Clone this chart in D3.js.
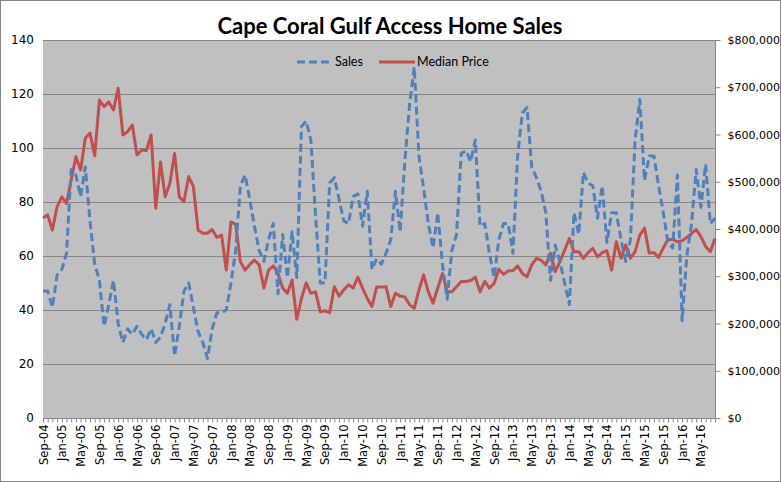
<!DOCTYPE html>
<html>
<head>
<meta charset="utf-8">
<script src="https://cdn.jsdelivr.net/npm/d3@7"></script>
<style>
  body { margin: 0; background: #fff; }
  svg { display: block; }
</style>
</head>
<body>
<div id="chart"></div>
<script>
// monthly data, Sep-04 .. Aug-16
var tickLabels = ["Sep-04","Jan-05","May-05","Sep-05","Jan-06","May-06","Sep-06","Jan-07","May-07",
                  "Sep-07","Jan-08","May-08","Sep-08","Jan-09","May-09","Sep-09","Jan-10","May-10",
                  "Sep-10","Jan-11","May-11","Sep-11","Jan-12","May-12","Sep-12","Jan-13","May-13",
                  "Sep-13","Jan-14","May-14","Sep-14","Jan-15","May-15","Sep-15","Jan-16","May-16"];

var sales = [47,47,41,53,55,61,92,90,82,93,73,57,51,34,42,51,35,28,33,31,
             34,31,29,33,28,30,35,42,23,34,47,50,41,32,28,22,33,39,39,40,
             50,62,86,90,81,71,62,58,66,72,46,68,52,69,52,108,110,103,75,50,
             50,87,89,81,73,72,82,83,71,84,55,59,57,61,66,84,69,95,116,130,
             97,85,72,63,76,57,44,62,68,98,99,95,103,71,72,61,52,66,72,72,
             61,97,113,115,93,89,84,76,51,64,58,50,42,76,68,91,87,86,74,86,
             65,76,76,66,58,66,103,118,88,97,97,86,76,65,63,90,36,60,72,92,
             78,94,72,74];

var medianPrice = [423000,430000,398000,447000,468000,454000,504000,553000,525000,592000,
                   603000,555000,673000,659000,669000,652000,698000,599000,606000,620000,
                   557000,567000,566000,599000,444000,542000,468000,497000,560000,468000,
                   458000,511000,490000,398000,391000,391000,399000,382000,387000,313000,
                   415000,410000,331000,313000,325000,334000,324000,275000,313000,322000,
                   306000,275000,264000,292000,209000,253000,286000,264000,267000,225000,
                   227000,223000,278000,258000,271000,282000,275000,298000,275000,253000,
                   236000,277000,277000,278000,236000,264000,258000,256000,240000,232000,
                   271000,303000,267000,243000,275000,306000,267000,267000,278000,289000,
                   289000,291000,298000,267000,289000,275000,285000,315000,304000,311000,
                   312000,322000,306000,299000,324000,338000,334000,324000,349000,310000,
                   331000,355000,380000,352000,352000,338000,350000,359000,341000,350000,
                   354000,313000,373000,338000,366000,338000,352000,387000,402000,349000,
                   350000,340000,360000,378000,378000,373000,375000,382000,390000,399000,
                   384000,363000,352000,380000];

var leftTicks = [0, 20, 40, 60, 80, 100, 120, 140];
var rightTicks = [0, 100000, 200000, 300000, 400000, 500000, 600000, 700000, 800000];

var width = 781, height = 482;
var plot = { left: 43, right: 715, top: 40, bottom: 418 };

var svg = d3.select("#chart").append("svg")
    .attr("width", width)
    .attr("height", height);

// chart border
svg.append("rect")
    .attr("x", 0.5).attr("y", 0.5)
    .attr("width", width - 1).attr("height", height - 1)
    .attr("fill", "#fff")
    .attr("stroke", "#868686");

var x = d3.scaleLinear().domain([0, sales.length - 1]).range([plot.left, plot.right]);
var yLeft = d3.scaleLinear().domain([0, 140]).range([plot.bottom, plot.top]);
var yRight = d3.scaleLinear().domain([0, 800000]).range([plot.bottom, plot.top]);

// plot area
svg.append("rect")
    .attr("x", plot.left).attr("y", plot.top)
    .attr("width", plot.right - plot.left).attr("height", plot.bottom - plot.top)
    .attr("fill", "#c0c0c0");

// gridlines from left axis
svg.append("g")
    .selectAll("line")
    .data(leftTicks.filter(d => d > 0))
    .enter().append("line")
    .attr("x1", plot.left).attr("x2", plot.right)
    .attr("y1", d => Math.round(yLeft(d)) + 0.5)
    .attr("y2", d => Math.round(yLeft(d)) + 0.5)
    .attr("stroke", "#868686")
    .attr("stroke-width", 1);

// left axis labels
svg.append("g")
    .selectAll("text")
    .data(leftTicks)
    .enter().append("text")
    .attr("x", 34)
    .attr("y", d => yLeft(d))
    .attr("dy", "0.35em")
    .attr("text-anchor", "end")
    .attr("font-family", "DejaVu Sans, Verdana, sans-serif")
    .attr("font-size", "12px")
    .attr("fill", "#000")
    .text(d => d);

// right axis
var rightAxis = d3.axisRight(yRight)
    .tickValues(rightTicks)
    .tickSize(5)
    .tickPadding(7)
    .tickFormat(d => "$" + d3.format(",")(d));

var ra = svg.append("g")
    .attr("transform", "translate(" + (plot.right + 0.5) + ",0)")
    .call(rightAxis);
ra.select(".domain").attr("stroke", "#868686").attr("d", "M0," + plot.top + "V" + plot.bottom);
ra.selectAll(".tick line").attr("stroke", "#868686");
ra.selectAll("text")
    .attr("font-family", "DejaVu Sans, Verdana, sans-serif")
    .attr("font-size", "11px")
    .attr("fill", "#000");

// bottom axis: tick every month, label every 4th
var bottomAxis = d3.axisBottom(x)
    .tickValues(d3.range(sales.length))
    .tickSize(4)
    .tickFormat(d => d % 4 === 0 ? tickLabels[d / 4] : "");

var ba = svg.append("g")
    .attr("transform", "translate(0," + (plot.bottom + 0.5) + ")")
    .call(bottomAxis);
ba.select(".domain").attr("stroke", "#868686").attr("d", "M" + plot.left + ",0H" + plot.right);
ba.selectAll(".tick line").attr("stroke", "#868686");
ba.selectAll("text")
    .attr("font-family", "DejaVu Sans, Verdana, sans-serif")
    .attr("font-size", "11.5px")
    .attr("fill", "#000")
    .attr("text-anchor", "end")
    .attr("transform", "rotate(-90)")
    .attr("x", -6)
    .attr("y", 0)
    .attr("dy", "0.35em");

// lines
var salesLine = d3.line()
    .x((d, i) => x(i))
    .y(d => yLeft(d));

var priceLine = d3.line()
    .x((d, i) => x(i))
    .y(d => yRight(d));

svg.append("path")
    .datum(medianPrice)
    .attr("d", priceLine)
    .attr("fill", "none")
    .attr("stroke", "#c0504d")
    .attr("stroke-width", 3)
    .attr("stroke-linejoin", "round");

svg.append("path")
    .datum(sales)
    .attr("d", salesLine)
    .attr("fill", "none")
    .attr("stroke", "#4f81bd")
    .attr("stroke-width", 3)
    .attr("stroke-dasharray", "8,4")
    .attr("stroke-linejoin", "round");

// title
svg.append("text")
    .attr("x", 390)
    .attr("y", 34)
    .attr("text-anchor", "middle")
    .attr("font-family", "Lato, 'Open Sans', sans-serif")
    .attr("font-weight", "bold")
    .attr("font-size", "22px")
    .attr("fill", "#000")
    .text("Cape Coral Gulf Access Home Sales");

// legend
var legend = svg.append("g");
legend.append("line")
    .attr("x1", 297).attr("x2", 333).attr("y1", 62).attr("y2", 62)
    .attr("stroke", "#4f81bd").attr("stroke-width", 3).attr("stroke-dasharray", "8,4");
legend.append("text")
    .attr("x", 335).attr("y", 62).attr("dy", "0.35em")
    .attr("font-family", "Lato, 'Open Sans', sans-serif")
    .attr("font-size", "12.5px")
    .text("Sales");
legend.append("line")
    .attr("x1", 379).attr("x2", 415).attr("y1", 62).attr("y2", 62)
    .attr("stroke", "#c0504d").attr("stroke-width", 3);
legend.append("text")
    .attr("x", 417).attr("y", 62).attr("dy", "0.35em")
    .attr("font-family", "Lato, 'Open Sans', sans-serif")
    .attr("font-size", "12.5px")
    .text("Median Price");
</script>
</body>
</html>
